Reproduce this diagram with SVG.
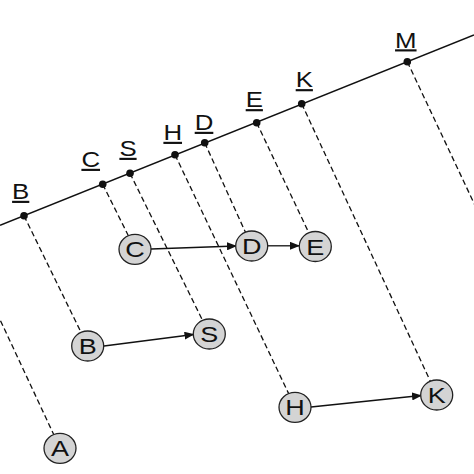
<svg xmlns="http://www.w3.org/2000/svg" width="474" height="474" viewBox="0 0 474 474">
<defs>
<style>
.axis{stroke:#111;stroke-width:1.6;fill:none}
.dash{stroke:#111;stroke-width:1.3;stroke-dasharray:5.5,3.2;fill:none}
.dot{fill:#111}
.lbl{font-family:"Liberation Sans",Arial,sans-serif;font-size:21.5px;fill:#111;text-anchor:middle;text-decoration:underline}
.node ellipse{fill:#d4d4d4;stroke:#222;stroke-width:1.3}
.node text{font-family:"Liberation Sans",Arial,sans-serif;font-size:22.5px;fill:#111;text-anchor:middle}
.arrow{stroke:#111;stroke-width:1.3;fill:none;marker-end:url(#ah)}
</style>
<marker id="ah" markerUnits="userSpaceOnUse" markerWidth="10" markerHeight="8" refX="9" refY="4" orient="auto">
<path d="M0,0 L10,4 L0,8 Z" fill="#111"/>
</marker>
</defs>
<rect width="474" height="474" fill="#fff"/>
<g id="connectors">
<line class="axis" x1="0" y1="225.3" x2="474" y2="34.9"/>
<line class="dash" x1="-40" y1="234" x2="60" y2="448"/>
<line class="dash" x1="24" y1="215.7" x2="87.7" y2="346"/>
<line class="dash" x1="102.7" y1="184.3" x2="135" y2="249"/>
<line class="dash" x1="130" y1="173.3" x2="209.3" y2="334"/>
<line class="dash" x1="175" y1="154.7" x2="295" y2="407"/>
<line class="dash" x1="204.7" y1="142.7" x2="251.7" y2="246"/>
<line class="dash" x1="256.7" y1="122.7" x2="315.3" y2="246.5"/>
<line class="dash" x1="301.7" y1="103.7" x2="436.7" y2="395"/>
<line class="dash" x1="407.3" y1="61.7" x2="480" y2="216"/>
<line class="arrow" x1="151" y1="249" x2="236" y2="246"/>
<line class="arrow" x1="268" y1="245.8" x2="299" y2="245.8"/>
<line class="arrow" x1="104" y1="346" x2="193.5" y2="334.5"/>
<line class="arrow" x1="311" y1="407" x2="421" y2="395.5"/>
</g>
<g id="axis-points">
<circle class="dot" cx="24" cy="215.7" r="3.8"/>
<circle class="dot" cx="102.7" cy="184.3" r="3.8"/>
<circle class="dot" cx="130" cy="173.3" r="3.8"/>
<circle class="dot" cx="175" cy="154.7" r="3.8"/>
<circle class="dot" cx="204.7" cy="142.7" r="3.8"/>
<circle class="dot" cx="256.7" cy="122.7" r="3.8"/>
<circle class="dot" cx="301.7" cy="103.7" r="3.8"/>
<circle class="dot" cx="407.3" cy="61.7" r="3.8"/>
</g>
<g id="labels">
<text class="lbl" transform="translate(20.7,199) scale(1.2,1)">B</text>
<text class="lbl" transform="translate(90.7,167) scale(1.2,1)">C</text>
<text class="lbl" transform="translate(128,156) scale(1.2,1)">S</text>
<text class="lbl" transform="translate(172.7,140) scale(1.2,1)">H</text>
<text class="lbl" transform="translate(204,130) scale(1.2,1)">D</text>
<text class="lbl" transform="translate(254.3,107.3) scale(1.2,1)">E</text>
<text class="lbl" transform="translate(304.3,87.3) scale(1.2,1)">K</text>
<text class="lbl" transform="translate(405.8,47.5) scale(1.2,1)">M</text>
</g>
<g id="node-C" class="node"><ellipse cx="135" cy="249.3" rx="16" ry="15"/><text transform="translate(135,257.3) scale(1.2,1)">C</text></g>
<g id="node-D" class="node"><ellipse cx="251.7" cy="246" rx="16" ry="15"/><text transform="translate(251.7,254) scale(1.2,1)">D</text></g>
<g id="node-E" class="node"><ellipse cx="315.3" cy="246.5" rx="16" ry="15"/><text transform="translate(315.3,254.5) scale(1.2,1)">E</text></g>
<g id="node-B" class="node"><ellipse cx="87.7" cy="346" rx="16" ry="15"/><text transform="translate(87.7,354) scale(1.2,1)">B</text></g>
<g id="node-S" class="node"><ellipse cx="209.3" cy="334" rx="16" ry="15"/><text transform="translate(209.3,342) scale(1.2,1)">S</text></g>
<g id="node-H" class="node"><ellipse cx="295" cy="407.3" rx="16" ry="15"/><text transform="translate(295,415.3) scale(1.2,1)">H</text></g>
<g id="node-K" class="node"><ellipse cx="436.7" cy="395" rx="16" ry="15"/><text transform="translate(436.7,403) scale(1.2,1)">K</text></g>
<g id="node-A" class="node"><ellipse cx="60" cy="448.3" rx="16" ry="15"/><text transform="translate(60,456.3) scale(1.2,1)">A</text></g>
</svg>
